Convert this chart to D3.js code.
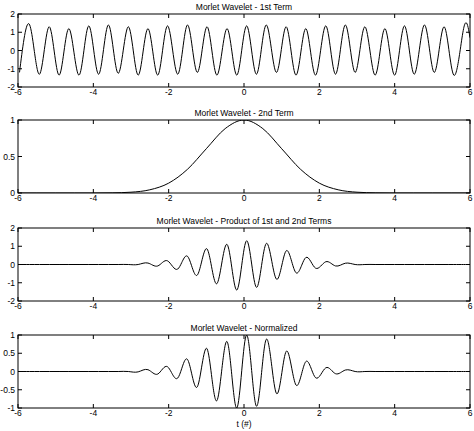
<!DOCTYPE html>
<html><head><meta charset="utf-8">
<script src="https://cdn.jsdelivr.net/npm/d3@7"></script>
<style>body{margin:0;background:#fff}text{font-family:"Liberation Sans",Arial,sans-serif;font-size:8.5px;fill:#000}</style>
</head><body><div id="chart"></div>
<script>
// extremum times (shared by the oscillating plots)
var extT = [-5.96,-5.69,-5.43,-5.17,-4.91,-4.65,-4.38,-4.12,-3.86,-3.60,-3.34,-3.07,-2.81,-2.55,-2.29,-2.03,-1.76,-1.50,-1.24,-0.98,-0.72,-0.45,-0.19,0.07,0.33,0.59,0.86,1.12,1.38,1.64,1.90,2.17,2.43,2.69,2.95,3.21,3.48,3.74,4.00,4.26,4.52,4.79,5.05,5.31,5.57,5.83];
var term1 = [-1.2,1.4,-1.3,1.3,-1.35,1.2,-1.35,1.35,-1.3,1.4,-1.25,1.3,-1.35,1.2,-1.35,1.35,-1.3,1.4,-1.2,1.3,-1.35,1.2,-1.35,1.35,-1.3,1.4,-1.2,1.3,-1.35,1.2,-1.35,1.35,-1.3,1.4,-1.2,1.3,-1.35,1.2,-1.35,1.35,-1.3,1.4,-1.2,1.3,-1.35,1.2];
var product = [0,0,0,0,0,0,0,0,0,0,0,0,0,0.08,-0.08,0.2,-0.25,0.45,-0.58,0.85,-1.05,1.1,-1.4,1.3,-1.25,1.15,-0.8,0.75,-0.45,0.38,-0.2,0.15,-0.08,0.07,0,0,0,0,0,0,0,0,0,0,0,0];
var normed = [0,0,0,0,0,0,0,0,0,0,0,0,-0.01,0.05,-0.07,0.13,-0.18,0.33,-0.42,0.62,-0.8,0.82,-1.0,1.0,-0.95,0.88,-0.6,0.55,-0.37,0.27,-0.17,0.1,-0.06,0.04,0,0,0,0,0,0,0,0,0,0,0,0];
var gaussT = [-6,-5.5,-5,-4.5,-4,-3.5,-3,-2.5,-2,-1.5,-1,-0.5,0,0.5,1,1.5,2,2.5,3,3.5,4,4.5,5,5.5,6];
var gaussV = [0,0,0,0,0,0.002,0.011,0.044,0.135,0.325,0.607,0.882,1,0.882,0.607,0.325,0.135,0.044,0.011,0.002,0,0,0,0,0];
var xTicks = [-6,-4,-2,0,2,4,6];

var panels = [
  {title:"Morlet Wavelet - 1st Term", top:14, t:extT.concat([6]), v:term1.concat([0.7]), dom:[-2,2], ticks:[-2,-1,0,1,2]},
  {title:"Morlet Wavelet - 2nd Term", top:120, t:gaussT, v:gaussV, dom:[0,1], ticks:[0,0.5,1]},
  {title:"Morlet Wavelet - Product of 1st and 2nd Terms", top:228, t:[-6].concat(extT,[6]), v:[0].concat(product,[0]), dom:[-2,2], ticks:[-2,-1,0,1,2]},
  {title:"Morlet Wavelet - Normalized", top:335, t:[-6].concat(extT,[6]), v:[0].concat(normed,[0]), dom:[-1,1], ticks:[-1,-0.5,0,0.5,1]}
];

var W = 474, H = 431, left = 18, right = 470, ph = 73;
var svg = d3.select("#chart").append("svg").attr("width", W).attr("height", H);
var x = d3.scaleLinear().domain([-6,6]).range([left, right]);

panels.forEach(function(p) {
  var y = d3.scaleLinear().domain(p.dom).range([p.top + ph, p.top]);
  var g = svg.append("g");
  var clip = "c" + p.top;
  g.append("clipPath").attr("id", clip).append("rect")
    .attr("x", left).attr("y", p.top).attr("width", right-left).attr("height", ph);
  g.append("rect").attr("x", left).attr("y", p.top).attr("width", right-left).attr("height", ph)
    .attr("fill", "none").attr("stroke", "#000");
  var pts = p.t.map(function(t, i) { return [t, p.v[i]]; });
  g.append("path").attr("clip-path", "url(#" + clip + ")")
    .attr("d", d3.line().x(function(d){return x(d[0]);}).y(function(d){return y(d[1]);})
      .curve(p.v === gaussV ? d3.curveMonotoneX : d3.curveNatural)(pts))
    .attr("fill", "none").attr("stroke", "#000").attr("stroke-width", 1);
  // ticks
  xTicks.forEach(function(t) {
    g.append("line").attr("x1", x(t)).attr("x2", x(t)).attr("y1", p.top+ph).attr("y2", p.top+ph-4).attr("stroke","#000");
    g.append("line").attr("x1", x(t)).attr("x2", x(t)).attr("y1", p.top).attr("y2", p.top+4).attr("stroke","#000");
    g.append("text").attr("x", x(t)).attr("y", p.top+ph+8).attr("text-anchor","middle").text(t);
  });
  p.ticks.forEach(function(t) {
    g.append("line").attr("x1", left).attr("x2", left+4).attr("y1", y(t)).attr("y2", y(t)).attr("stroke","#000");
    g.append("line").attr("x1", right).attr("x2", right-4).attr("y1", y(t)).attr("y2", y(t)).attr("stroke","#000");
    g.append("text").attr("x", left-3).attr("y", y(t)+3).attr("text-anchor","end").text(t);
  });
  g.append("text").attr("x", (left+right)/2).attr("y", p.top-4).attr("text-anchor","middle").text(p.title);
});
svg.append("text").attr("x", x(0)).attr("y", 427).attr("text-anchor","middle").text("t (#)");
</script></body></html>
